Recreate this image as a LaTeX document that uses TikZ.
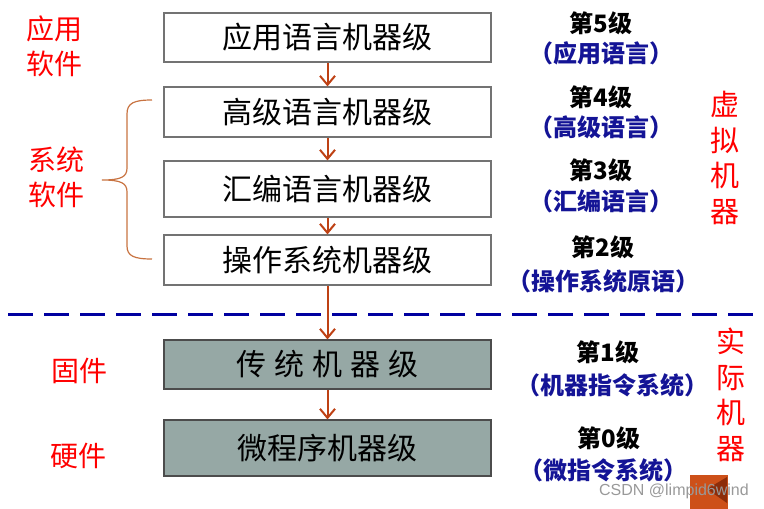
\documentclass[tikz,border=0pt]{standalone}
\usepackage{fontspec}
\newfontfamily\cjk{Noto Sans CJK SC}
\newfontfamily\wmfont{Liberation Sans}
\usetikzlibrary{arrows.meta}
\definecolor{arrowc}{RGB}{190,65,20}
\definecolor{navyc}{RGB}{20,20,150}
\definecolor{boxgray}{RGB}{150,168,165}
\definecolor{bracec}{RGB}{200,115,65}
\definecolor{dashc}{RGB}{0,0,160}
\definecolor{btnc}{RGB}{205,80,25}
\definecolor{btndark}{RGB}{140,45,10}
\begin{document}
\begin{tikzpicture}[x=1pt,y=-1pt,
  lvl/.style={draw=black!55, line width=1.2pt, minimum width=327pt, inner sep=0pt,
    font=\cjk\fontsize{30}{34}\selectfont, text=black, fill=white},
  hw/.style={lvl, fill=boxgray, draw=black!70},
  flow/.style={draw=arrowc, line width=2pt, -{Straight Barb[length=9pt,width=15pt]}},
  redlab/.style={text=red, font=\cjk\fontsize{28}{35}\selectfont, align=center, inner sep=0pt},
  vlab/.style={text=red, font=\cjk\fontsize{29}{35.5}\selectfont, align=center, inner sep=0pt},
  lvlnum/.style={text=black, font=\cjk\bfseries\fontsize{24}{28}\selectfont, inner sep=0pt},
  lvlname/.style={text=navyc, font=\cjk\bfseries\fontsize{24}{28}\selectfont, inner sep=0pt},
  ]
\useasboundingbox (0,0) rectangle (764,509);
% dashed separator
\coordinate (dl) at (8,314);
\coordinate (dr) at (764,314);
\draw[dashc, line width=3pt, dash pattern=on 25pt off 11pt] (dl) -- (dr);
% level boxes
\node[lvl, minimum height=49pt] (b1) at (327.5,37.5) {应用语言机器级};
\node[lvl, minimum height=50pt] (b2) at (327.5,112) {高级语言机器级};
\node[lvl, minimum height=56pt] (b3) at (327.5,189) {汇编语言机器级};
\node[lvl, minimum height=50pt] (b4) at (327.5,260) {操作系统机器级};
\node[hw, minimum height=49pt] (b5) at (327.5,364.5) {传\hspace{8pt}统\hspace{8pt}机\hspace{8pt}器\hspace{8pt}级};
\node[hw, minimum height=56pt] (b6) at (327.5,448) {微程序机器级};
% arrows
\draw[flow] (b1) -- (b2);
\draw[flow] (b2) -- (b3);
\draw[flow] (b3) -- (b4);
\draw[flow] (b4) -- (b5);
\draw[flow] (b5) -- (b6);
% left labels
\node[redlab] (app) at (55,46.5) {应用\\软件};
\node[redlab] (sys) at (56,177) {系统\\软件};
\node[redlab] (fw) at (80,371) {固件};
\node[redlab] (hwl) at (78,456) {硬件};
% brace
\draw[bracec, line width=1.2pt]
  (152,100) .. controls (134,100) and (127,103) .. (127,114) -- (127,168)
  .. controls (127,177) and (121,180) .. (102,180)
  .. controls (121,180) and (127,183) .. (127,192) -- (127,246)
  .. controls (127,256) and (134,259) .. (152,259);
% right labels
\node[lvlnum] (n5) at (601,23) {第5级};
\node[lvlname] (t5) at (601,53) {（应用语言）};
\node[lvlnum] (n4) at (601,97) {第4级};
\node[lvlname] (t4) at (601,127) {（高级语言）};
\node[lvlnum] (n3) at (601,170) {第3级};
\node[lvlname] (t3) at (601,201) {（汇编语言）};
\node[lvlnum] (n2) at (603,247) {第2级};
\node[lvlname] (t2) at (603,281) {（操作系统原语）};
\node[lvlnum] (n1) at (608,352) {第1级};
\node[lvlname] (t1) at (612,385) {（机器指令系统）};
\node[lvlnum] (n0) at (609,438) {第0级};
\node[lvlname] (t0) at (603,470) {（微指令系统）};
% vertical red labels
\node[vlab] (virt) at (725,158) {虚\\拟\\机\\器};
\node[vlab] (real) at (731,395) {实\\际\\机\\器};
% navigation button
\fill[btnc] (690,475) rectangle (728,509);
\fill[btndark] (707,489) -- (727,477) -- (727,503) -- cycle;
% watermark
\node[text=black!40, font=\wmfont\fontsize{16}{18}\selectfont, inner sep=0pt] (wm) at (674,491) {CSDN @limpid6wind};
\end{tikzpicture}
\end{document}
